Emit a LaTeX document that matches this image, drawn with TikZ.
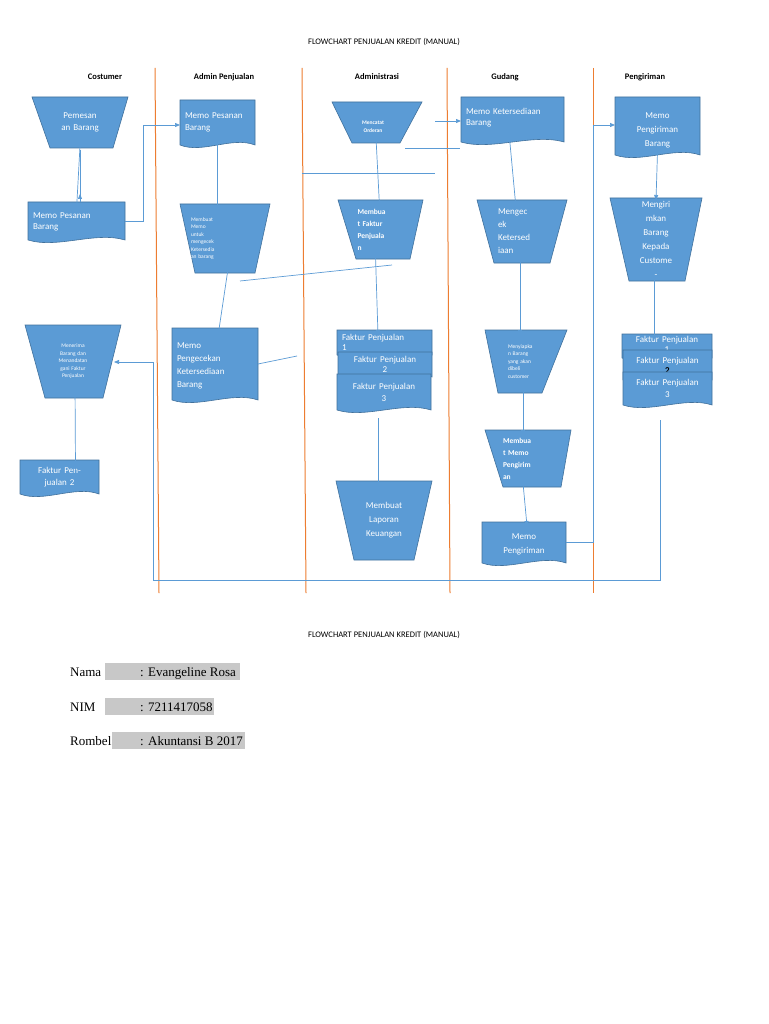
\documentclass[tikz,border=0pt]{standalone}
\usepackage{fontspec}
\setmainfont{Carlito}
\newfontfamily\tnr{Liberation Serif}
\usetikzlibrary{calc,arrows.meta}
\definecolor{sfill}{HTML}{5B9BD5}
\definecolor{sdraw}{HTML}{41719C}
\definecolor{lane}{HTML}{ED7D31}
\definecolor{hl}{HTML}{C8C8C8}
\tikzset{
 shp/.style={fill=sfill,draw=sdraw,line width=0.6pt},
 box/.style={inner sep=0pt,outer sep=0pt},
 txt/.style={text=white,inner sep=0pt,font=\fontsize{9}{11.5}\selectfont,align=center},
 tiny/.style={font=\fontsize{5.5}{7.5}\selectfont},
 con/.style={draw=sfill,line width=0.7pt},
 arr/.style={con,-{Triangle[length=5pt,width=4pt]}},
 lanel/.style={draw=lane,line width=1pt},
 hdr/.style={font=\bfseries\fontsize{8.5}{10}\selectfont},
 ttl/.style={font=\fontsize{8.5}{10}\selectfont},
 bt/.style={font=\tnr\fontsize{13}{15}\selectfont,anchor=base west,inner sep=0pt},
}
\newcommand\docshape[7]{%
 \pgfmathsetmacro\dw{#4-#2}\pgfmathsetmacro\dh{#5-#3}\pgfmathsetmacro\tw{#4-#2-10}%
 \path[shp] (#2,#3) -- (#4,#3) -- (#4,#5) .. controls ($(#2,#5)!0.7!(#4,#5)+(0,-9)$) and ($(#2,#5)!0.3!(#4,#5)+(0,9)$) .. (#2,#5) -- cycle;
 \node[box,minimum width=\dw pt,minimum height=\dh pt] (#1) at ($(#2,#3)!0.5!(#4,#5)$) {};
 \node[txt,text width=\tw pt,#7] (#1t) at (#1.center) {#6};}
\newcommand\trap[9]{%
 \pgfmathsetmacro\dw{#3-#2}\pgfmathsetmacro\dh{#7-#4}\pgfmathsetmacro\tw{#6-#5}%
 \path[shp] (#2,#4) -- (#3,#4) -- (#6,#7) -- (#5,#7) -- cycle;
 \node[box,minimum width=\dw pt,minimum height=\dh pt] (#1) at ($(#2,#4)!0.5!(#3,#7)$) {};
 \node[txt,text width=\tw pt,#9] (#1t) at (#1.center) {#8};}
\begin{document}
\begin{tikzpicture}[x=1pt,y=-1pt]
\path[use as bounding box,fill=white] (0,0) rectangle (768,1024);
\node[ttl] (title1) at (384,42) {FLOWCHART PENJUALAN KREDIT (MANUAL)};
\node[ttl] (title2) at (384,635) {FLOWCHART PENJUALAN KREDIT (MANUAL)};
\node[hdr] (h1) at (105,77) {Costumer};
\node[hdr] (h2) at (224,77) {Admin Penjualan};
\node[hdr] (h3) at (377,77) {Administrasi};
\node[hdr] (h4) at (505,77) {Gudang};
\node[hdr] (h5) at (645,77) {Pengiriman};
\foreach \x/\y in {155/159,302/306,447/450,593/593}{\draw[lanel] (\x,68) -- (\y,593);}

% Costumer
\trap{p1}{32}{128}{97}{50}{113}{148}{Pemesan\\an Barang}{}
\docshape{p2}{28}{202}{125}{240}{Memo Pesanan\\Barang}{align=left,yshift=-1pt}
\trap{p3}{25}{121}{325}{45}{103}{398}{Menerima\\Barang dan\\Menandatan\\gani Faktur\\Penjualan}{tiny}
\docshape{p4}{20}{460}{99}{494}{Faktur Penjualan 2}{}
% Admin
\docshape{a1}{180}{100}{255}{145}{Memo Pesanan\\Barang}{align=left}
\trap{a2}{180}{270}{204}{195}{255}{273}{Membuat\\Memo\\untuk\\mengecek\\Ketersedia\\an barang}{tiny,align=left,xshift=-4pt}
\docshape{a3}{172}{328}{258}{400}{Memo\\Pengecekan\\Ketersediaan\\Barang}{align=left,yshift=-2pt,font=\fontsize{9}{13}\selectfont}
% Administrasi
\trap{d1}{332}{422}{102}{352}{400}{143}{\textbf{Mencatat}\\\textbf{Orderan}}{tiny,xshift=-4pt,yshift=-4pt}
\trap{d2}{338}{423}{200}{356}{410}{259}{\textbf{Membua}\\\textbf{t Faktur}\\\textbf{Penjuala}\\\textbf{n}}{align=left,font=\fontsize{7.5}{12}\selectfont,xshift=4pt}
\docshape{d3}{337}{330}{432}{355}{Faktur Penjualan\\1}{align=left,font=\fontsize{9}{10}\selectfont}
\docshape{d4}{338}{352}{432}{377}{Faktur Penjualan\\2}{font=\fontsize{9}{10}\selectfont}
\docshape{d5}{337}{374}{431}{410}{Faktur Penjualan\\3}{font=\fontsize{9}{12}\selectfont}
\trap{d6}{336}{432}{481}{354}{414}{560}{Membuat\\Laporan\\Keuangan}{font=\fontsize{9}{14}\selectfont}
% Gudang
\docshape{g1}{461}{97}{564}{142}{Memo Ketersediaan\\Barang}{align=left,yshift=2pt}
\trap{g2}{477}{567}{200}{494}{550}{263}{Mengec\\ek\\Ketersed\\iaan}{align=left,font=\fontsize{9}{13}\selectfont,xshift=4pt}
\trap{g3}{485}{567}{330}{498}{542}{393}{Menyiapka\\n Barang\\yang akan\\dibeli\\customer}{tiny,align=left,xshift=4pt}
\trap{g4}{485}{571}{430}{503}{561}{487}{\textbf{Membua}\\\textbf{t Memo}\\\textbf{Pengirim}\\\textbf{an}}{align=left,font=\fontsize{7.5}{12}\selectfont,xshift=4pt}
\docshape{g5}{482}{522}{566}{563}{Memo\\Pengiriman}{font=\fontsize{9}{14}\selectfont,yshift=-2pt}
% Pengiriman
\docshape{k1}{615}{97}{700}{155}{Memo\\Pengiriman\\Barang}{font=\fontsize{9}{14}\selectfont,yshift=-4pt}
\trap{k2}{610}{702}{198}{629}{685}{281}{Mengiri\\mkan\\Barang\\Kepada\\Custome\\-}{font=\fontsize{9}{14}\selectfont}
\docshape{k3}{622}{334}{712}{358}{Faktur Penjualan\\1}{font=\fontsize{9}{10}\selectfont,yshift=2pt}
\docshape{k4}{623}{350}{712}{380}{Faktur Penjualan\\\textcolor{black}{\textbf{2}}}{font=\fontsize{9}{10}\selectfont}
\docshape{k5}{623}{372}{712}{405}{Faktur Penjualan\\3}{font=\fontsize{9}{12}\selectfont}

% connectors
\draw[arr] (p1.south) ++(0,2) coordinate (c1) -- (c1 |- p2.north) ++(0,-8);
\draw[arr] ([yshift=2pt]p1.south) -- ([yshift=-8pt]p2.north);
\draw[arr] (p2.east) -| (143,125) -- (a1.west |- 0,125);
\draw[arr] ([yshift=4pt]a1.south) -- ([yshift=-8pt]a2.north -| a1.south);
\draw[arr] ([xshift=3pt,yshift=4pt]a2.south) -- ([xshift=3pt,yshift=-8pt]a3.north);
\draw[con] ([xshift=-30pt,yshift=-8pt]a2.south east) -- (392,265) coordinate (e1);
\draw[con] (a3.east) -- (297,356) coordinate (e2);
\draw[con] (302,173) coordinate (e3) -- (435,173) coordinate (e4);
\draw[con] (405,148) coordinate (e5) -- (460,148) coordinate (e6);
\draw[arr] (435,121) coordinate (e7) -- (g1.west |- e7);
\draw[arr] ([xshift=-1pt,yshift=5pt]d1.south) -- ([xshift=-1pt,yshift=-6pt]d2.north);
\draw[arr] ([xshift=-5pt,yshift=3pt]d2.south) -- ([yshift=-5pt]d3.north -| 378,0);
\draw[arr] (378,418) coordinate (e8) -- ([yshift=-13pt]d6.north -| e8);
\draw[arr] ([xshift=-3pt,yshift=4pt]g1.south) -- ([xshift=-6pt,yshift=-8pt]g2.north);
\draw[arr] ([xshift=-2pt,yshift=5pt]g2.south) -- ([xshift=-6pt,yshift=-5pt]g3.north);
\draw[arr] ([xshift=-3pt,yshift=5pt]g3.south) -- ([xshift=-5pt,yshift=-5pt]g4.north);
\draw[arr] ([xshift=-5pt,yshift=4pt]g4.south) -- ([xshift=3pt,yshift=-4pt]g5.north);
\draw[arr] (g5.east) -| (593,125) -- (k1.west |- 0,125);
\draw[arr] ([yshift=3pt]k1.south) -- ([yshift=-2pt]k2.north);
\draw[arr] ([xshift=-2pt,yshift=4pt]k2.south) -- ([xshift=-13pt,yshift=-6pt]k3.north);
\draw[arr] (660,420) coordinate (e9) -- (660,580) -- (153,580) -- (153,362) -- ([xshift=-7pt]p3.east |- 0,362);
\draw[arr] ([xshift=2pt,yshift=15pt]p3.south) -- ([xshift=16pt,yshift=-10pt]p4.north);

% bottom info
\fill[hl] (105,663) rectangle (240,680);
\fill[hl] (105,698) rectangle (214,715);
\fill[hl] (112,732) rectangle (245,749);
\node[bt] (n1) at (70,676) {Nama};
\node[bt] (n2) at (140,676) {: Evangeline Rosa};
\node[bt] (n3) at (70,711) {NIM};
\node[bt] (n4) at (140,711) {: 7211417058};
\node[bt] (n5) at (70,745) {Rombel};
\node[bt] (n6) at (140,745) {: Akuntansi B 2017};
\end{tikzpicture}
\end{document}
